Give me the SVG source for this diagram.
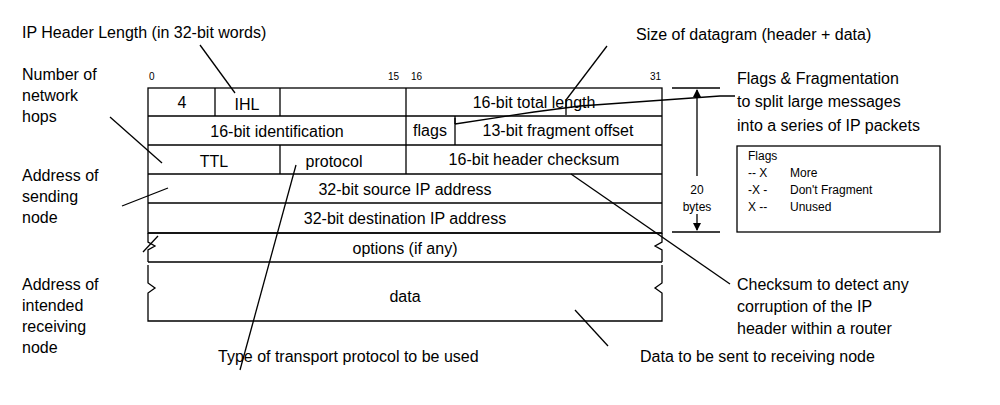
<svg xmlns="http://www.w3.org/2000/svg" width="1000" height="405" viewBox="0 0 1000 405">
<style>
text{font-family:"Liberation Sans",Arial,sans-serif;fill:#000}
.l{font-size:16px}
.c{font-size:16px;text-anchor:middle}
.s{font-size:10px}
.f{font-size:12px}
.k{stroke:#000;stroke-width:1.3;fill:none}
</style>
<rect width="1000" height="405" fill="#fff"/>
<g id="header" class="k">
<rect class="k" x="148" y="88" width="514" height="145"/>
<line class="k" x1="148" y1="116" x2="662" y2="116"/><line class="k" x1="148" y1="145" x2="662" y2="145"/>
<line class="k" x1="148" y1="174" x2="662" y2="174"/><line class="k" x1="148" y1="203" x2="662" y2="203"/>
<line class="k" x1="215" y1="88" x2="215" y2="116"/><line class="k" x1="280" y1="88" x2="280" y2="116"/>
<line class="k" x1="280" y1="145" x2="280" y2="174"/><line class="k" x1="406" y1="88" x2="406" y2="174"/>
<line class="k" x1="455" y1="116" x2="455" y2="145"/>
</g>
<g id="headertext">
<text class="s" x="149" y="80">0</text><text class="s" x="388" y="80">15</text><text class="s" x="411" y="80">16</text><text class="s" x="650" y="80">31</text>
<text class="c" x="182" y="108">4</text><text class="c" x="247" y="110">IHL</text>
<text class="c" x="534" y="108">16-bit total length</text>
<text class="c" x="277" y="137">16-bit identification</text>
<text class="c" x="430" y="136">flags</text><text class="c" x="558" y="136">13-bit fragment offset</text>
<text class="c" x="214" y="167">TTL</text><text class="c" x="334" y="167">protocol</text>
<text class="c" x="534" y="165">16-bit header checksum</text>
<text class="c" x="405" y="195">32-bit source IP address</text>
<text class="c" x="405" y="224">32-bit destination IP address</text>
</g>
<g id="options">
<path class="k" d="M148,233 H662 M148,262 H662 M148,233 V242 l7,4 -7,4 V262 M662,233 V242 l-7,4 7,4 V262"/>
<text class="c" x="405" y="254">options (if any)</text>
</g>
<g id="data">
<path class="k" d="M148,265 V283 l7,5 -7,5 V321 H662 V293 l-7,-5 7,-5 V265"/>
<text class="c" x="405" y="302">data</text>
</g>
<g id="bytes">
<line class="k" x1="672" y1="88" x2="720" y2="88"/><line class="k" x1="672" y1="232" x2="720" y2="232"/>
<line class="k" x1="697" y1="90" x2="697" y2="176"/>
<line class="k" x1="697" y1="214" x2="697" y2="230"/>
<path d="M697,89 L693,97 L701,97z M697,231 L693,223 L701,223z" fill="#000"/>
<text class="f" x="697" y="194" text-anchor="middle">20</text><text class="f" x="697" y="211" text-anchor="middle">bytes</text>
</g>
<g id="flags">
<rect class="k" x="737" y="146" width="203" height="86"/>
<text class="f" x="748" y="160">Flags</text>
<text class="f" x="748" y="177">-- X</text><text class="f" x="790" y="177">More</text>
<text class="f" x="748" y="194">-X -</text><text class="f" x="790" y="194">Don't Fragment</text>
<text class="f" x="748" y="211">X --</text><text class="f" x="790" y="211">Unused</text>
</g>
<g id="labels">
<text class="l" x="22" y="38">IP Header Length (in 32-bit words)</text>
<text class="l" x="636" y="40">Size of datagram  (header + data)</text>
<text class="l" x="22" y="80">Number of</text><text class="l" x="22" y="101">network</text><text class="l" x="22" y="122">hops</text>
<text class="l" x="22" y="181">Address of</text><text class="l" x="22" y="202">sending</text><text class="l" x="22" y="223">node</text>
<text class="l" x="22" y="290">Address of</text><text class="l" x="22" y="311">intended</text><text class="l" x="22" y="332">receiving</text><text class="l" x="22" y="353">node</text>
<text class="l" x="737" y="84">Flags &amp; Fragmentation</text><text class="l" x="737" y="107">to split large messages</text><text class="l" x="737" y="131">into a series of IP packets</text>
<text class="l" x="737" y="290">Checksum to detect any</text><text class="l" x="737" y="312">corruption of the IP</text><text class="l" x="737" y="334">header within a router</text>
<text class="l" x="218" y="362">Type of transport protocol to be used</text>
<text class="l" x="640" y="362">Data to be sent to receiving node</text>
</g>
<g id="connectors" class="k">
<line x1="200" y1="45" x2="235" y2="93"/>
<line x1="607" y1="46" x2="566" y2="100"/><line x1="566" y1="100" x2="566" y2="115"/>
<polyline points="735,96 720,96 664,100 580,106 534,112 455,124"/>
<line x1="455" y1="118" x2="455" y2="124"/>
<line x1="110" y1="117" x2="162" y2="163"/>
<line x1="122" y1="206" x2="168" y2="188"/>
<line x1="143" y1="252" x2="158" y2="236"/>
<line x1="240" y1="370" x2="296" y2="165"/>
<line x1="571" y1="174" x2="730" y2="284"/>
<line x1="575" y1="310" x2="608" y2="346"/>
</g>
</svg>
